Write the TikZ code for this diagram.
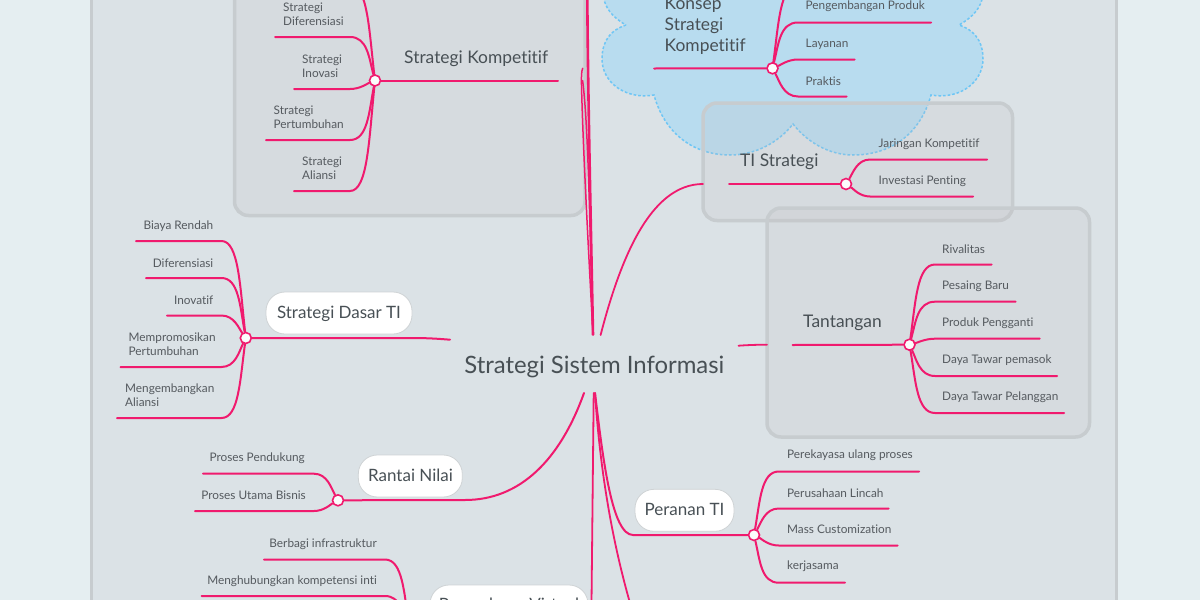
\documentclass[tikz,border=0pt]{standalone}
\usepackage{fontspec}
\setmainfont{Lato}[Ligatures=NoCommon]
\usetikzlibrary{calc}
\definecolor{outerbg}{RGB}{229,238,241}
\definecolor{panelbg}{RGB}{219,226,230}
\definecolor{frameln}{RGB}{199,204,207}
\definecolor{boxfill}{RGB}{194,191,195}
\definecolor{cloudfill}{RGB}{184,220,239}
\definecolor{cloudln}{RGB}{110,198,245}
\definecolor{linkcol}{RGB}{240,26,110}
\definecolor{inkmain}{RGB}{72,80,85}
\definecolor{inkleaf}{RGB}{85,90,95}
\pgfdeclarelayer{under}
\pgfdeclarelayer{links}
\pgfsetlayers{under,links,main}
\tikzset{
  link/.style={draw=linkcol,line width=2pt,line cap=round},
  hubnode/.style={circle,draw=linkcol,fill=white!90!panelbg,line width=1.6pt,minimum size=11pt,inner sep=0pt},
  framebox/.style={draw=frameln,line width=3.5pt,rounded corners=14pt,fill=boxfill,fill opacity=.2},
  pill/.style={draw=panelbg!85!black!70!white,line width=.8pt,fill=white,rounded corners=19pt,inner sep=0pt},
  leaftxt/.style={inner sep=0pt,text=inkleaf,font=\fontsize{11.8pt}{14pt}\selectfont,align=left,anchor=west,yshift=-1.2pt},
  leaftxtr/.style={leaftxt,anchor=east},
  titletxt/.style={inner sep=0pt,text=inkmain,font=\fontsize{17.4pt}{21pt}\selectfont,align=left,anchor=west,yshift=-1.3pt},
  pilltxt/.style={inner sep=0pt,text=inkmain,font=\fontsize{17pt}{21pt}\selectfont,anchor=center,yshift=-1.3pt},
}
% #1 hub node, #2 hub x, #3 hub y, #4 elbow x, #5 elbow y, #6 free end x, #7 name of free end
\newcommand{\leafl}[7]{%
  \pgfmathsetmacro{\dyy}{abs(#5-#3)}%
  \pgfmathsetmacro{\kk}{min(1,\dyy/45)}%
  \pgfmathsetmacro{\cax}{#2+(#4-#2)*(0.33-0.09*\kk)}%
  \pgfmathsetmacro{\cay}{#3+(#5-#3)*(0.33+0.2*\kk)}%
  \pgfmathsetmacro{\cbx}{#2+(#4-#2)*(0.67-0.38*\kk)}%
  \coordinate (#7) at (#6,#5);
  \draw[link] (#7) -- (#4,#5) .. controls (\cbx,#5) and (\cax,\cay) .. (#1);
}
\begin{document}
\begin{tikzpicture}[x=1pt,y=-1pt]
\useasboundingbox (0,0) rectangle (1200,600);
\begin{pgfonlayer}{under}
\fill[outerbg] (0,0) rectangle (1200,600);
\draw[draw=frameln,line width=3.2pt,fill=panelbg] (91.5,-30) rectangle (1116.5,630);
\draw[framebox] (234.5,-60) rectangle (585,215.5);
\draw[fill=cloudfill,draw=cloudln,line width=1.5pt,dash pattern=on 2.6pt off 2pt]
 (626,25) .. controls (605,32) and (602,48) .. (602,59) .. controls (602,82) and (625,100) .. (654,95)
 .. controls (665,135) and (695,155) .. (730,155) .. controls (755,155) and (778,143) .. (793,124)
 .. controls (808,143) and (830,155) .. (853,155) .. controls (890,155) and (920,135) .. (931,95)
 .. controls (960,100) and (983,82) .. (983,59) .. controls (983,48) and (980,32) .. (959,25)
 .. controls (973,17) and (981,8) .. (983,-5) -- (983,-40) -- (602,-40) -- (603,-5)
 .. controls (605,8) and (612,17) .. (626,25) -- cycle;
\draw[framebox] (703,103) rectangle (1012.5,220.5);
\draw[framebox] (767,208) rectangle (1089.5,437);
\end{pgfonlayer}

% nodes
\node[inner sep=0pt,text=inkmain,font=\fontsize{23.9pt}{26pt}\selectfont,anchor=center,yshift=-2pt] (root) at (594.3,364.5) {Strategi Sistem Informasi};
\coordinate (rootN) at (593,335);
\coordinate (rootNb) at (600.6,335);
\coordinate (rootS) at (595,393);
\coordinate (rootSw) at (584,393);
\coordinate (rootW) at (450,339.7);
\coordinate (rootE) at (738.5,345.7);

\node[hubnode] (hubKomp) at (375,80.5) {};
\node[hubnode] (hubKons) at (772.5,68.3) {};
\node[hubnode] (hubTI) at (846,184) {};
\node[hubnode] (hubTan) at (909.5,344.7) {};
\node[hubnode] (hubDas) at (245.8,338) {};
\node[hubnode] (hubRan) at (338,500.3) {};
\node[hubnode] (hubPer) at (754,535) {};
\node[hubnode] (hubVir) at (410,631) {};

\node[pill,minimum width=146pt,minimum height=42pt] (pDas) at (339,313) {};
\node[pilltxt] (tDas) at (339,312.5) {Strategi Dasar TI};
\node[pill,minimum width=104pt,minimum height=42pt] (pRan) at (410.3,476) {};
\node[pilltxt] (tRan) at (410.5,474.5) {Rantai Nilai};
\node[pill,minimum width=99pt,minimum height=42pt] (pPer) at (684.5,510.3) {};
\node[pilltxt] (tPer) at (684.5,508.5) {Peranan TI};
\node[pill,minimum width=158pt,minimum height=42pt] (pVir) at (509,606) {};
\node[pilltxt] (tVir) at (509,602.7) {Perusahaan Virtual};

\node[titletxt] (tKomp) at (404,57) {Strategi Kompetitif};
\node[titletxt] (tKons) at (664.5,24.5) {Konsep\\Strategi\\Kompetitif};
\node[titletxt] (tTI) at (740,160) {TI Strategi};
\node[titletxt] (tTan) at (803,322) {Tantangan};

\node[leaftxt] (a1) at (283,13) {Strategi\\Diferensiasi};
\node[leaftxt] (a2) at (302,65) {Strategi\\Inovasi};
\node[leaftxt] (a3) at (273.5,116) {Strategi\\Pertumbuhan};
\node[leaftxt] (a4) at (302,167) {Strategi\\Aliansi};

\node[leaftxt] (b1) at (805.5,5) {Pengembangan Produk};
\node[leaftxt] (b2) at (805.5,43) {Layanan};
\node[leaftxt] (b3) at (805.5,80) {Praktis};

\node[leaftxt] (c1) at (878.5,143) {Jaringan Kompetitif};
\node[leaftxt] (c2) at (878.5,180) {Investasi Penting};

\node[leaftxt] (d1) at (942,248) {Rivalitas};
\node[leaftxt] (d2) at (942,285) {Pesaing Baru};
\node[leaftxt] (d3) at (942,322) {Produk Pengganti};
\node[leaftxt] (d4) at (942,359) {Daya Tawar pemasok};
\node[leaftxt] (d5) at (942,396) {Daya Tawar Pelanggan};

\node[leaftxtr] (e1) at (213.5,225) {Biaya Rendah};
\node[leaftxtr] (e2) at (213.5,262) {Diferensiasi};
\node[leaftxtr] (e3) at (213.5,299) {Inovatif};
\node[leaftxt] (e4) at (128.5,343) {Mempromosikan\\Pertumbuhan};
\node[leaftxt] (e5) at (125,394) {Mengembangkan\\Aliansi};

\node[leaftxtr] (f1) at (305,457) {Proses Pendukung};
\node[leaftxtr] (f2) at (306,494) {Proses Utama Bisnis};

\node[leaftxtr] (g1) at (377,543) {Berbagi infrastruktur};
\node[leaftxtr] (g2) at (377,580) {Menghubungkan kompetensi inti};

\node[leaftxt] (h1) at (787,454.5) {Perekayasa ulang proses};
\node[leaftxt] (h2) at (787,491.5) {Perusahaan Lincah};
\node[leaftxt] (h3) at (787,528.5) {Mass Customization};
\node[leaftxt] (h4) at (787,565.5) {kerjasama};

\begin{pgfonlayer}{links}
\coordinate (topEnd) at (587.3,-3);
\coordinate (kompEnd) at (582.7,68.3);
\coordinate (kompEndb) at (582.6,80.5);
\coordinate (botA) at (591.5,603);
\coordinate (botB) at (630,603);
\coordinate (tiEnd) at (703,184);
\coordinate (tanEnd) at (767,344.7);
% centre to branches
\draw[link,line width=2.6pt,line cap=butt] (rootN) .. controls (591,230) and (588,100) .. (topEnd);
\draw[link,line width=1.5pt] (rootN) .. controls (589,260) and (583,150) .. (581.5,85) .. controls (581.3,76) and (581.5,71) .. (kompEnd);
\draw[link,line width=1.5pt] (rootN) .. controls (590,250) and (589,130) .. (kompEndb);
\draw[link,line width=1.8pt] (rootNb) .. controls (620,260) and (650,184) .. (tiEnd);
\draw[link,line width=1.8pt] (rootE) .. controls (748,345) and (758,344.7) .. (tanEnd);
\draw[link] (hubDas) -- (413,338) .. controls (426,338) and (438,338.7) .. (rootW);
\draw[link] (hubRan) -- (465,500) .. controls (520,500) and (560,460) .. (rootSw);
\draw[link] (hubPer) -- (633,535) .. controls (612,535) and (603,460) .. (rootS);
\draw[link,line width=1.8pt] (rootS) ++(-1.3,0) -- (botA);
\draw[link,line width=1.8pt] (rootS) .. controls (600,470) and (612,540) .. (botB);
% inner stems
\coordinate (sKomp) at (558,80.5);
\draw[link] (hubKomp) -- (sKomp);
\coordinate (sKons) at (654,68.5);
\draw[link] (hubKons) -- (sKons);
\coordinate (sTI) at (729,184);
\draw[link] (hubTI) -- (sTI);
\coordinate (sTan) at (792.5,345);
\draw[link] (hubTan) -- (sTan);
% leaves
\leafl{hubKomp}{375}{80.5}{350}{-15}{283}{la0}
\leafl{hubKomp}{375}{80.5}{350}{37}{275}{la1}
\leafl{hubKomp}{375}{80.5}{350}{89}{294}{la2}
\leafl{hubKomp}{375}{80.5}{350}{140}{266}{la3}
\leafl{hubKomp}{375}{80.5}{350}{191}{294}{la4}
\leafl{hubKons}{772.5}{68.3}{798}{-15}{900}{lb0}
\leafl{hubKons}{772.5}{68.3}{798}{22.5}{931}{lb1}
\leafl{hubKons}{772.5}{68.3}{798}{59.5}{854.5}{lb2}
\leafl{hubKons}{772.5}{68.3}{798}{96.5}{846.5}{lb3}
\leafl{hubTI}{846}{184}{870}{159.5}{987}{lc1}
\leafl{hubTI}{846}{184}{870}{196.5}{973}{lc2}
\leafl{hubTan}{909.5}{344.7}{935}{264.5}{991.5}{ld1}
\leafl{hubTan}{909.5}{344.7}{935}{301.7}{1015.6}{ld2}
\leafl{hubTan}{909.5}{344.7}{935}{338.7}{1039.7}{ld3}
\leafl{hubTan}{909.5}{344.7}{935}{376}{1057}{ld4}
\leafl{hubTan}{909.5}{344.7}{935}{413}{1064}{ld5}
\leafl{hubDas}{245.8}{338}{221.5}{241}{136}{le1}
\leafl{hubDas}{245.8}{338}{221.5}{278}{146}{le2}
\leafl{hubDas}{245.8}{338}{221.5}{315.5}{167}{le3}
\leafl{hubDas}{245.8}{338}{221.5}{367}{120.5}{le4}
\leafl{hubDas}{245.8}{338}{221.5}{418}{117}{le5}
\leafl{hubRan}{338}{500.3}{314}{473.7}{203}{lf1}
\leafl{hubRan}{338}{500.3}{314}{511}{195}{lf2}
\leafl{hubVir}{410}{631}{385}{559.5}{264}{lg1}
\leafl{hubVir}{410}{631}{385}{596}{201.7}{lg2}
\leafl{hubPer}{754}{535}{778.7}{471.5}{919}{lh1}
\leafl{hubPer}{754}{535}{778.7}{508.5}{888.5}{lh2}
\leafl{hubPer}{754}{535}{778.7}{545.5}{897.7}{lh3}
\leafl{hubPer}{754}{535}{778.7}{582.7}{845}{lh4}
\end{pgfonlayer}
\end{tikzpicture}
\end{document}
